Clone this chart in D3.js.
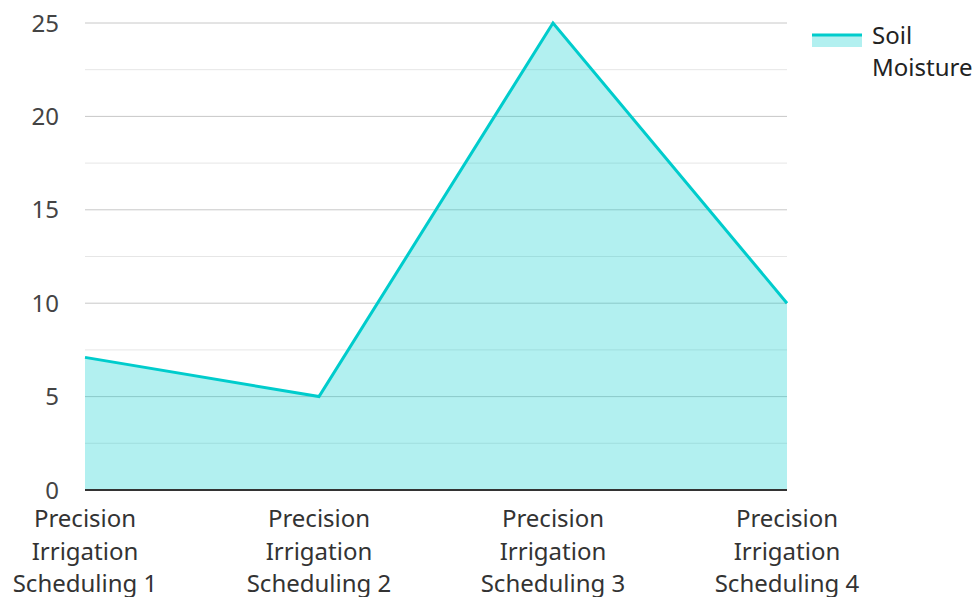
<!DOCTYPE html>
<html><head><meta charset="utf-8">
<script src="https://cdn.jsdelivr.net/npm/d3@7"></script>
<style>body{margin:0;background:#fff}svg{display:block;font-family:"Noto Sans",sans-serif}</style>
</head><body><svg id="c" width="977" height="597"></svg>
<script>
const categories = ["Precision Irrigation Scheduling 1","Precision Irrigation Scheduling 2","Precision Irrigation Scheduling 3","Precision Irrigation Scheduling 4"];
const categoryLines = [["Precision","Irrigation","Scheduling 1"],["Precision","Irrigation","Scheduling 2"],["Precision","Irrigation","Scheduling 3"],["Precision","Irrigation","Scheduling 4"]];
const soilMoisture = [7.1, 5, 25, 10];
const yTicks = [0, 5, 10, 15, 20, 25];
const seriesName = ["Soil", "Moisture"];

(function(){
const svg = d3.select("#c");
const mL = 85, mR = 787, mT = 23, mB = 490;
const x = d3.scalePoint().domain(categories).range([mL, mR]);
const y = d3.scaleLinear().domain([0, 25]).range([mB, mT]);

const minor = d3.range(2.5, 25, 5);
svg.append("g").selectAll("line").data(minor).join("line")
  .attr("x1", mL).attr("x2", mR).attr("y1", d => y(d)).attr("y2", d => y(d))
  .attr("stroke", "#e6e6e6").attr("stroke-width", 1);
svg.append("g").selectAll("line").data(yTicks.filter(d => d > 0)).join("line")
  .attr("x1", mL).attr("x2", mR).attr("y1", d => y(d)).attr("y2", d => y(d))
  .attr("stroke", "#c8c8c8").attr("stroke-width", 1);

const data = categories.map((c, i) => ({c, v: soilMoisture[i]}));
svg.append("path").datum(data)
  .attr("d", d3.area().x(d => x(d.c)).y0(y(0)).y1(d => y(d.v)))
  .attr("fill", "#00cccc").attr("fill-opacity", 0.3);
svg.append("path").datum(data)
  .attr("d", d3.line().x(d => x(d.c)).y(d => y(d.v)))
  .attr("fill", "none").attr("stroke", "#00cccc").attr("stroke-width", 3);

svg.append("line").attr("x1", mL).attr("x2", mR).attr("y1", y(0)).attr("y2", y(0))
  .attr("stroke", "#333").attr("stroke-width", 2);

svg.append("g").selectAll("text").data(yTicks).join("text")
  .attr("x", 59).attr("y", d => y(d) + 8.5).attr("text-anchor", "end")
  .attr("font-size", 24).attr("fill", "#444").text(d => d);

const xl = svg.append("g").selectAll("text").data(categories).join("text")
  .attr("text-anchor", "middle").attr("font-size", 24).attr("fill", "#333");
xl.each(function(d, j) {
  const t = d3.select(this);
  categoryLines[j].forEach((w, i) => t.append("tspan").attr("x", x(d)).attr("y", 527 + i * 32.5).text(w));
});

const lg = svg.append("g");
lg.append("rect").attr("x", 812).attr("y", 35).attr("width", 50).attr("height", 12)
  .attr("fill", "#00cccc").attr("fill-opacity", 0.3);
lg.append("line").attr("x1", 812).attr("x2", 862).attr("y1", 35).attr("y2", 35)
  .attr("stroke", "#00cccc").attr("stroke-width", 3);
lg.append("text").attr("font-size", 24).attr("fill", "#222").selectAll("tspan").data(seriesName).join("tspan")
  .attr("x", 872).attr("y", (d, i) => 44 + i * 32).text(d => d);
})();
</script></body></html>
